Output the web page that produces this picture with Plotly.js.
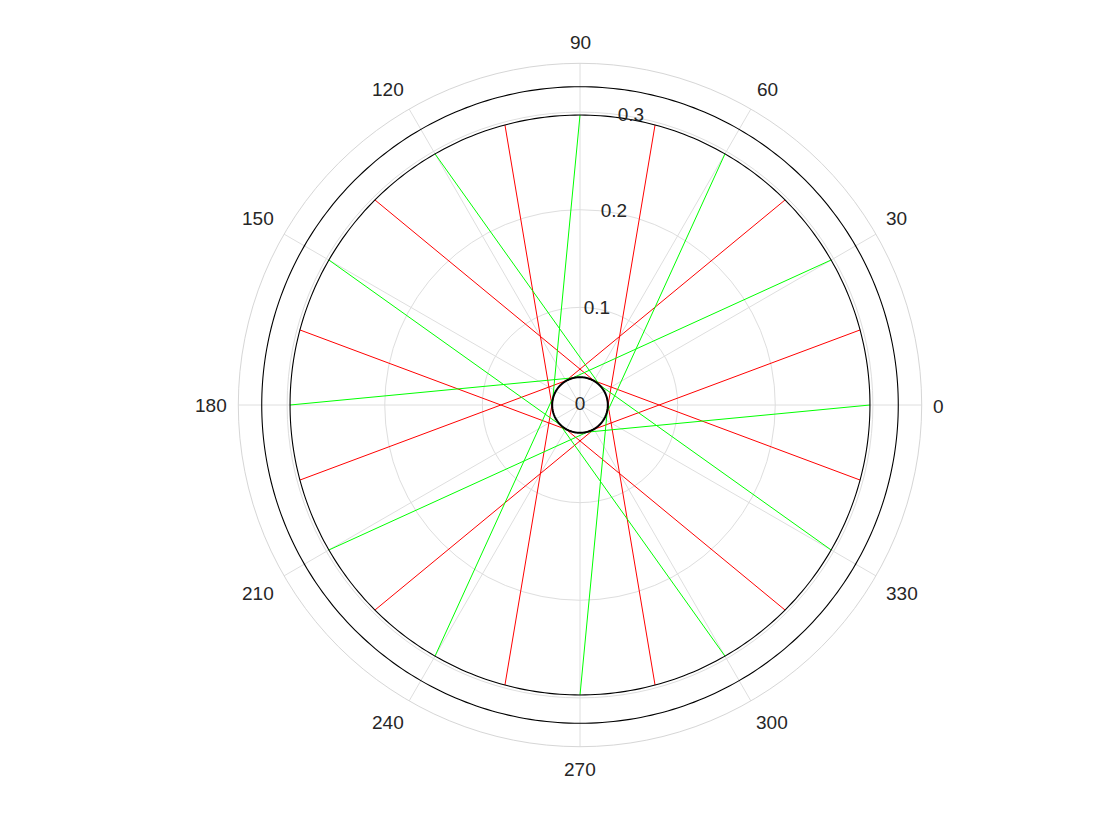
<!DOCTYPE html>
<html>
<head>
<meta charset="utf-8">
<script src="https://cdn.plot.ly/plotly-3.0.1.min.js"></script>
<style>
  html, body { margin: 0; padding: 0; background: #ffffff; }
  #chart { width: 1120px; height: 840px; }
</style>
</head>
<body>
<div id="chart"></div>
<script>
// ---- data ----
// red spokes: rim angle -> hub angle (degrees)
const redRimTheta   = [15, 45, 75, 105, 135, 165, 195, 225, 255, 285, 315, 345];
const redHubTheta   = [285, 135, 345, 195, 45, 255, 105, 315, 165, 15, 225, 75];
// green spokes: rim angle -> hub angle (degrees)
const greenRimTheta = [0, 30, 60, 90, 120, 150, 180, 210, 240, 270, 300, 330];
const greenHubTheta = [270, 120, 330, 180, 30, 240, 90, 300, 150, 0, 210, 60];

const hubRadius      = 0.0285;
const rimInnerRadius = 0.297;
const rimOuterRadius = 0.326;

const radialTickVals   = [0, 0.1, 0.2, 0.3];
const radialTickLabels = ['0', '0.1', '0.2', '0.3'];
const angularTickVals  = [0, 30, 60, 90, 120, 150, 180, 210, 240, 270, 300, 330];
const angularTickLabels = ['0', '30', '60', '90', '120', '150', '180', '210', '240', '270', '300', '330'];
const radialMax = 0.35;

// ---- geometry of the figure ----
const cx = 580, cy = 405, R = 341.7, W = 1120, H = 840;
const FONT = 'Liberation Sans, Arial, Helvetica, sans-serif';
const FONT_SIZE = 19;

// ---- build traces ----
function spokeTrace(rim, hub, color) {
  const r = [], t = [];
  for (let i = 0; i < rim.length; i++) {
    r.push(rimInnerRadius, hubRadius, null);
    t.push(rim[i], hub[i], null);
  }
  return {
    type: 'scatterpolar', mode: 'lines', r: r, theta: t,
    line: { color: color, width: 1 }, connectgaps: false,
    hoverinfo: 'skip', showlegend: false
  };
}
function circleTrace(radius, width) {
  const r = [], t = [];
  for (let a = 0; a <= 360; a += 1) { r.push(radius); t.push(a); }
  return {
    type: 'scatterpolar', mode: 'lines', r: r, theta: t,
    line: { color: '#000000', width: width },
    hoverinfo: 'skip', showlegend: false
  };
}

const traces = [
  spokeTrace(redRimTheta, redHubTheta, '#ff0000'),
  spokeTrace(greenRimTheta, greenHubTheta, '#00ff00'),
  circleTrace(rimInnerRadius, 1.1),
  circleTrace(rimOuterRadius, 1.1),
  circleTrace(hubRadius, 2),
  {
    type: 'scatterpolar', mode: 'text',
    r: radialTickVals, theta: radialTickVals.map(() => 80),
    text: radialTickLabels,
    textfont: { family: FONT, size: FONT_SIZE, color: '#262626' },
    textposition: 'middle center',
    hoverinfo: 'skip', showlegend: false, cliponaxis: false
  }
];

// angular tick labels: anchor point just outside the boundary, text box pushed outward
const labelBasePx = 353;
const annotations = angularTickVals.map((a, i) => {
  const rad = a * Math.PI / 180;
  const c = Math.cos(rad), s = Math.sin(rad);
  const sx = Math.abs(c) < 1e-6 ? 0 : Math.sign(c);
  const sy = Math.abs(s) < 1e-6 ? 0 : Math.sign(s);
  const halfW = angularTickLabels[i].length * 5.3;
  const halfH = 10.5;
  const px = cx + labelBasePx * c + halfW * sx;
  const py = cy - labelBasePx * s - halfH * sy + 1;
  return {
    xref: 'paper', yref: 'paper',
    x: px / W, y: 1 - py / H,
    xanchor: 'center', yanchor: 'middle',
    text: angularTickLabels[i], showarrow: false,
    font: { family: FONT, size: FONT_SIZE, color: '#262626' }
  };
});

const layout = {
  width: W, height: H,
  margin: { l: 0, r: 0, t: 0, b: 0, pad: 0 },
  paper_bgcolor: '#ffffff',
  showlegend: false,
  hovermode: false,
  font: { family: FONT, size: FONT_SIZE, color: '#262626' },
  annotations: annotations,
  polar: {
    domain: { x: [(cx - R) / W, (cx + R) / W], y: [(H - cy - R) / H, (H - cy + R) / H] },
    bgcolor: '#ffffff',
    radialaxis: {
      range: [0, radialMax],
      tickmode: 'array', tickvals: [0.1, 0.2, 0.3],
      showticklabels: false, ticks: '',
      showline: false,
      gridcolor: '#dedede', gridwidth: 1,
      angle: 80
    },
    angularaxis: {
      rotation: 0, direction: 'counterclockwise',
      tickmode: 'array', tickvals: angularTickVals,
      showticklabels: false, ticks: '',
      showline: true, linecolor: '#d6d6d6', linewidth: 1,
      gridcolor: '#dedede', gridwidth: 1
    }
  }
};

Plotly.newPlot('chart', traces, layout, { displayModeBar: false, staticPlot: true });
</script>
</body>
</html>
